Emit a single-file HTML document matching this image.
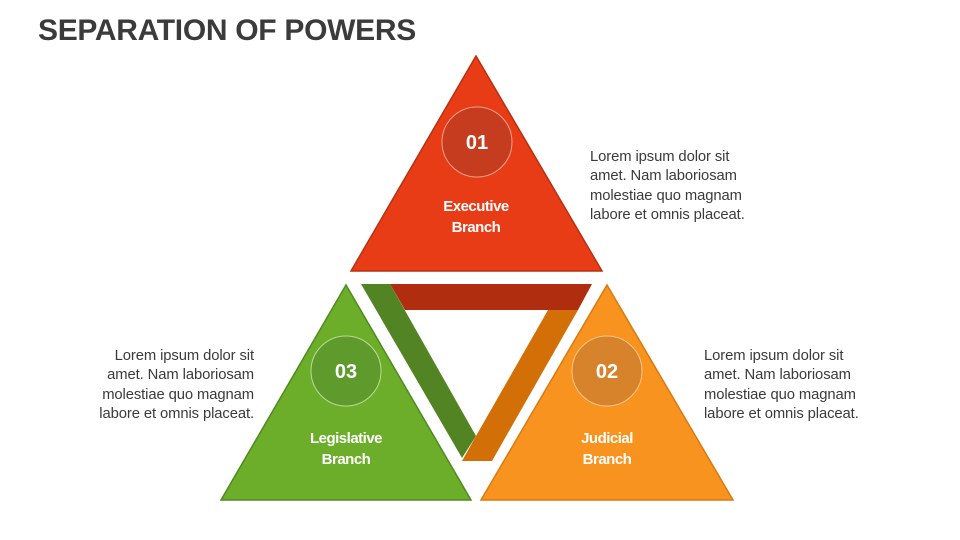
<!DOCTYPE html>
<html><head><meta charset="utf-8"><style>
body{margin:0;width:960px;height:540px;background:#fff;position:relative;overflow:hidden;font-family:"Liberation Sans",sans-serif}
.t{position:absolute;font-size:14.8px;line-height:19.3px;color:#3a3a3a;white-space:nowrap;letter-spacing:-0.1px}
h1{position:absolute;left:38px;top:14px;margin:0;font-size:30px;font-weight:bold;color:#3b3b3b;letter-spacing:-0.3px}
</style></head><body>
<h1>SEPARATION OF POWERS</h1>
<svg width="960" height="540" style="position:absolute;left:0;top:0" font-family="Liberation Sans, sans-serif">
<polygon points="390,284 592,284 578,310 405,310" fill="#b12d10"/>
<polygon points="361,284 390,284 476,436 462,458" fill="#538423"/>
<polygon points="548,310 578,310 492,461 462,461 476,436" fill="#d26f06"/>
<polygon points="476,56 602,271 351,271" fill="#e83c16" stroke="#b8300f" stroke-width="1.5"/>
<polygon points="346,285 471,500 221,500" fill="#6cae2a" stroke="#4f8a1e" stroke-width="1.5"/>
<polygon points="607,285 733,500 481,500" fill="#f7931e" stroke="#d97a10" stroke-width="1.5"/>
<circle cx="477" cy="142" r="35" fill="#c63c1f" stroke="#f3a08a" stroke-width="1"/>
<circle cx="346" cy="371" r="35" fill="#5f9a2c" stroke="#b8dc94" stroke-width="1"/>
<circle cx="607" cy="371" r="35" fill="#d7832b" stroke="#fbc58a" stroke-width="1"/>
<g fill="#fff" font-weight="bold" text-anchor="middle">
<text x="477" y="149" font-size="20">01</text>
<text x="346" y="378" font-size="20">03</text>
<text x="607" y="378" font-size="20">02</text>
<text x="476" y="211" font-size="15" letter-spacing="-0.5">Executive</text>
<text x="476" y="232" font-size="15" letter-spacing="-0.5">Branch</text>
<text x="346" y="443" font-size="15" letter-spacing="-0.5">Legislative</text>
<text x="346" y="464" font-size="15" letter-spacing="-0.5">Branch</text>
<text x="607" y="443" font-size="15" letter-spacing="-0.5">Judicial</text>
<text x="607" y="464" font-size="15" letter-spacing="-0.5">Branch</text>
</g>
</svg>
<div class="t" style="left:590px;top:148px">Lorem ipsum dolor sit<br>amet. Nam laboriosam<br>molestiae quo magnam<br>labore et omnis placeat.</div>
<div class="t" style="left:704px;top:347px">Lorem ipsum dolor sit<br>amet. Nam laboriosam<br>molestiae quo magnam<br>labore et omnis placeat.</div>
<div class="t" style="right:706px;top:347px;text-align:right">Lorem ipsum dolor sit<br>amet. Nam laboriosam<br>molestiae quo magnam<br>labore et omnis placeat.</div>
</body></html>
